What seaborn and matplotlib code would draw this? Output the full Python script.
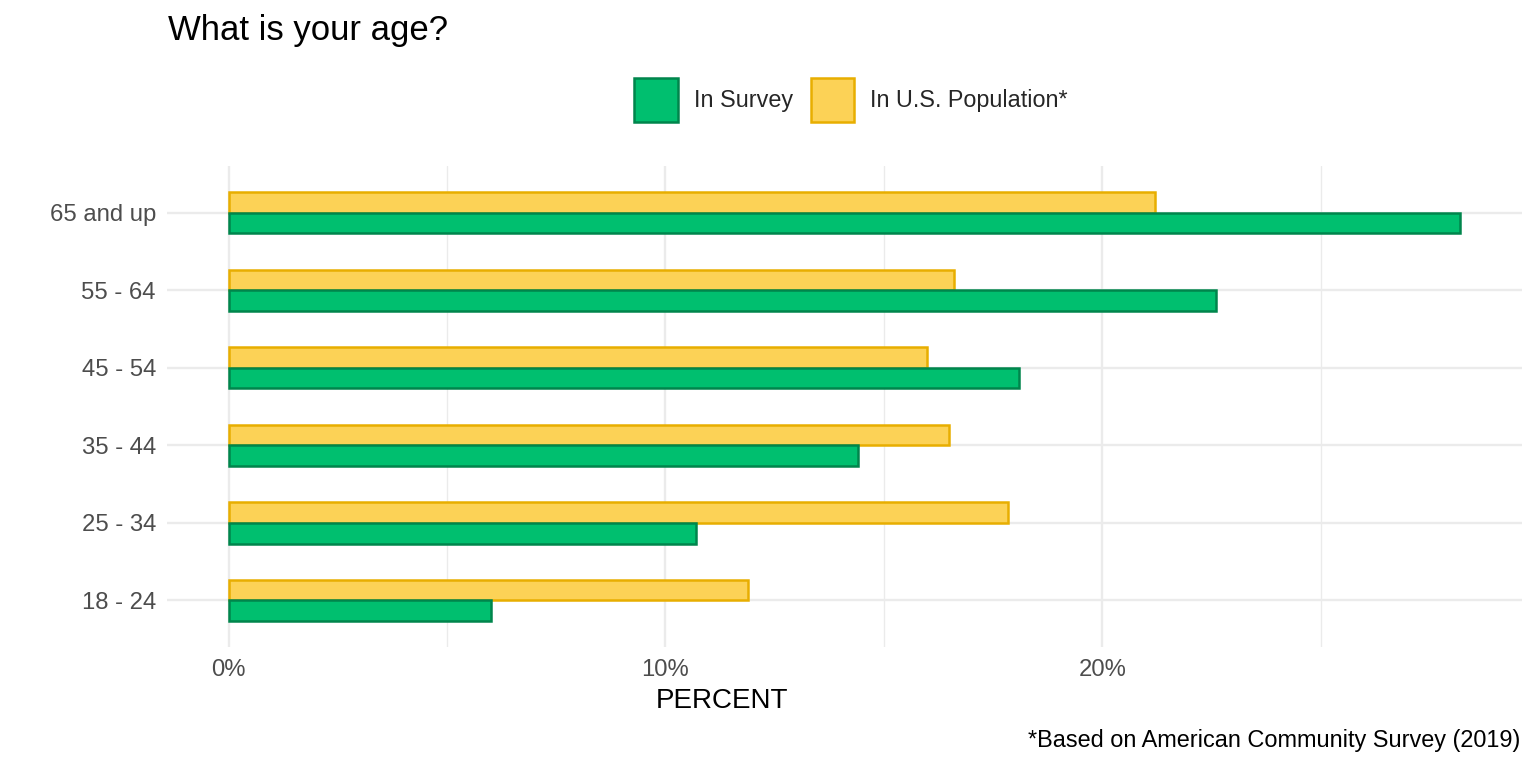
import numpy as np
import pandas as pd
import matplotlib
matplotlib.use("Agg")
import matplotlib.pyplot as plt
from matplotlib.patches import Patch
from matplotlib.ticker import FuncFormatter
import seaborn as sns

# ---------------------------------------------------------
# Données (pourcentages)
# ---------------------------------------------------------
ages = ["65 and up", "55 - 64", "45 - 54", "35 - 44", "25 - 34", "18 - 24"]
in_survey = [28.2, 22.6, 18.1, 14.4, 10.7, 6.0]
in_population = [21.2, 16.6, 16.0, 16.5, 17.85, 11.9]

survey_label = "In Survey"
pop_label = "In U.S. Population*"

df = pd.DataFrame({
    "age": ages * 2,
    "pct": in_survey + in_population,
    "group": [survey_label] * len(ages) + [pop_label] * len(ages),
})

fill = {survey_label: "#00BF6F", pop_label: "#FCD256"}
edge = {survey_label: "#00854C", pop_label: "#E8AE00"}

# ---------------------------------------------------------
# Style
# ---------------------------------------------------------
sns.set_theme(style="whitegrid")
plt.rcParams["font.family"] = ["Liberation Sans", "DejaVu Sans"]

fig = plt.figure(figsize=(15.36, 7.68), dpi=100)
ax = fig.add_axes([167 / 1536, 1 - 647 / 768, (1522 - 167) / 1536, (647 - 166.4) / 768])

hue_order = [pop_label, survey_label]
sns.barplot(
    data=df, x="pct", y="age", hue="group",
    order=ages, hue_order=hue_order,
    palette=fill, width=0.53, orient="h",
    legend=False, ax=ax, saturation=1,
)
for cont, name in zip(ax.containers, hue_order):
    for bar in cont:
        bar.set_edgecolor(edge[name])
        bar.set_linewidth(1.8)

# ---------------------------------------------------------
# Axes
# ---------------------------------------------------------
ax.set_xlim(-1.41, 29.61)
ax.set_ylim(len(ages) - 0.4, -0.6)
ax.set_xticks([0, 10, 20])
ax.set_xticks([5, 15, 25], minor=True)
ax.xaxis.set_major_formatter(FuncFormatter(lambda v, p: f"{v:.0f}%"))

ax.grid(True, which="major", axis="both", color="#EBEBEB", linewidth=1.7)
ax.grid(True, which="minor", axis="x", color="#EBEBEB", linewidth=1.0)
ax.set_axisbelow(True)
for s in ax.spines.values():
    s.set_visible(False)
ax.set_facecolor("white")

ax.tick_params(axis="both", which="both", length=0, labelsize=17.2, labelcolor="#4D4D4D")
ax.tick_params(axis="y", pad=8)
ax.tick_params(axis="x", pad=9)

ax.set_ylabel("")
ax.set_xlabel("PERCENT", fontsize=20, color="black")
ax.xaxis.set_label_coords((722 - 167) / (1522 - 167), -0.085)

# ---------------------------------------------------------
# Titre, légende, source
# ---------------------------------------------------------
fig.text(168 / 1536, 1 - 40 / 768, "What is your age?", fontsize=25,
         ha="left", va="baseline", color="black")

handles = [
    Patch(facecolor=fill[survey_label], edgecolor=edge[survey_label], linewidth=1.8, label=survey_label),
    Patch(facecolor=fill[pop_label], edgecolor=edge[pop_label], linewidth=1.8, label=pop_label),
]
fig.legend(
    handles=handles, loc="center", bbox_to_anchor=(851 / 1536, 1 - 100 / 768),
    ncol=2, frameon=False, fontsize=16.8,
    handlelength=1.87, handleheight=2.55, handletextpad=0.7, columnspacing=0.75,
)

fig.text(1520 / 1536, 1 - 741 / 768, "*Based on American Community Survey (2019)",
         fontsize=16.9, ha="right", va="center", color="black")

fig.savefig("out.png", dpi=100, facecolor="white")
